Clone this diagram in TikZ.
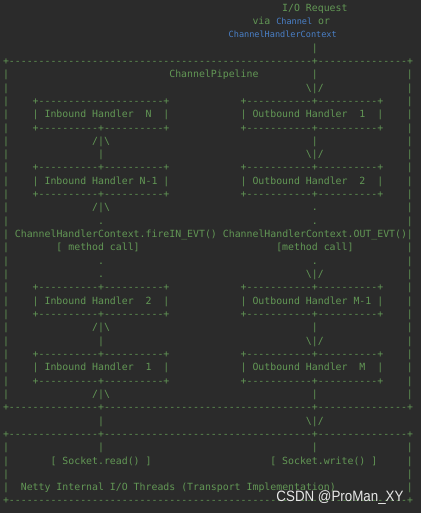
\documentclass[tikz,border=0pt]{standalone}
\usepackage{fontspec}
\setmonofont{DejaVu Sans Mono}
\newfontfamily\linkfont{DejaVu Sans Mono}
\newfontfamily\markfont{Liberation Sans}
\definecolor{bgcol}{HTML}{2B2B2B}
\definecolor{doccol}{HTML}{629755}
\definecolor{linkcol}{HTML}{4A80C8}
\definecolor{markcol}{HTML}{E8E8E8}
\newcommand\dashrun[1]{\foreach\k in {1,...,#1}{-}}
\newcommand\intopframe{+\dashrun{21}+}
\newcommand\inframe{+\dashrun{10}+\dashrun{10}+}
\newcommand\outframe{+\dashrun{11}+\dashrun{10}+}
\newcommand\upmark{/|\textbackslash}
\newcommand\downmark{\textbackslash|/}
\tikzset{
  ascii/.style={font=\ttfamily\fontsize{9.87}{12}\selectfont\frenchspacing,
    text=doccol, anchor=mid west, inner sep=0pt, outer sep=0pt, xshift=-2.97pt},
  linktext/.style={ascii, font=\linkfont\fontsize{8.54}{11}\selectfont, text=linkcol},
  watermark/.style={font=\markfont\fontsize{15}{18}\selectfont, text=markcol,
    anchor=base west, inner sep=0pt},
}

\begin{document}
\begin{tikzpicture}[x=5.94pt, y=-13.32pt]
\fill[bgcol] (-1.010,0.324) rectangle (69.865,38.838);
% request coming in from the top
\node[ascii] (req) at (47,1) {I/O Request};
\node[ascii] (via) at (42,2) {via {\linkfont\fontsize{8.54}{11}\selectfont\color{linkcol}Channel} or};
\node[linktext] (ctx) at (38,3) {ChannelHandlerContext};
% pipeline frame
\node[ascii] (ptop) at (0,5) {+\dashrun{51}+\dashrun{15}+};
\node[ascii] (pname) at (28,6) {ChannelPipeline};
\foreach \r in {6,...,30,34,35,36,37} {
  \node[ascii] (lb\r) at (0,\r) {|};
  \node[ascii] (rb\r) at (68,\r) {|};
}
\node[ascii] (pbot) at (0,31) {+\dashrun{15}+\dashrun{35}+\dashrun{15}+};
\node[ascii] (ttop) at (0,33) {+\dashrun{15}+\dashrun{35}+\dashrun{15}+};
\node[ascii] (tbot) at (0,38) {+\dashrun{67}+};
% handler frames
\node[ascii] (inf8) at (5,8) {\intopframe};
\foreach \r in {10,13,15,22,24,27,29}
  \node[ascii] (inf\r) at (5,\r) {\inframe};
\foreach \r in {8,10,13,15,22,24,27,29}
  \node[ascii] (outf\r) at (40,\r) {\outframe};
\node[ascii] (inN) at (5,9) {| Inbound Handler\ \ N\ \ |};
\node[ascii] (inN1) at (5,14) {| Inbound Handler N-1 |};
\node[ascii] (in2) at (5,23) {| Inbound Handler\ \ 2\ \ |};
\node[ascii] (in1) at (5,28) {| Inbound Handler\ \ 1\ \ |};
\node[ascii] (out1) at (40,9) {| Outbound Handler\ \ 1\ \ |};
\node[ascii] (out2) at (40,14) {| Outbound Handler\ \ 2\ \ |};
\node[ascii] (outM1) at (40,23) {| Outbound Handler M-1 |};
\node[ascii] (outM) at (40,28) {| Outbound Handler\ \ M\ \ |};
% inbound flow (upwards)
\foreach \r in {11,16,25,30}
  \node[ascii] (inup\r) at (15,\r) {\upmark};
\foreach \r in {12,26,32,34}
  \node[ascii] (inbar\r) at (16,\r) {|};
\foreach \r in {17,20,21}
  \node[ascii] (indot\r) at (16,\r) {.};
% outbound flow (downwards)
\foreach \r in {4,6,11,25,30,34}
  \node[ascii] (outbar\r) at (52,\r) {|};
\foreach \r in {7,12,21,26,32}
  \node[ascii] (outdown\r) at (51,\r) {\downmark};
\foreach \r in {16,17,20}
  \node[ascii] (outdot\r) at (52,\r) {.};
% method calls
\node[ascii] (calls) at (2,18) {ChannelHandlerContext.fireIN\_EVT() ChannelHandlerContext.OUT\_EVT()};
\node[ascii] (incall) at (9,19) {[ method call]};
\node[ascii] (outcall) at (46,19) {[method call]};
% transport
\node[ascii] (sread) at (8,35) {[ Socket.read() ]};
\node[ascii] (swrite) at (45,35) {[ Socket.write() ]};
\node[ascii] (netty) at (3,37) {Netty Internal I/O Threads (Transport Implementation)};
\node[watermark] (csdn) at (45.5,37.99) {\scalebox{0.89}[1]{CSDN @ProMan\_XY}};
\end{tikzpicture}
\end{document}
